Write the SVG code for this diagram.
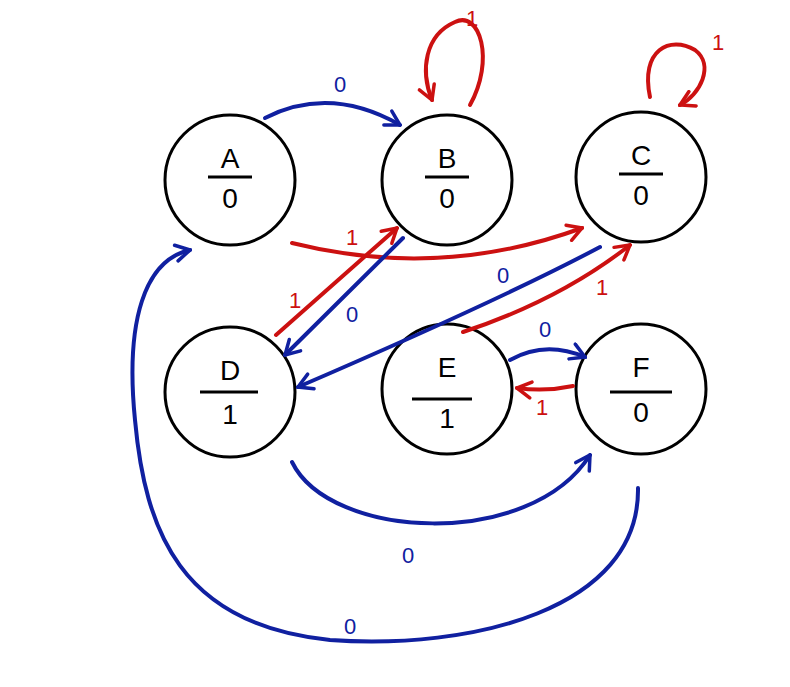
<svg xmlns="http://www.w3.org/2000/svg" width="790" height="687" viewBox="0 0 790 687">
<style>
.n{fill:#fff;stroke:#000;stroke-width:3}
.t{font-family:"Liberation Sans",sans-serif;font-size:28px;text-anchor:middle}
.b{fill:none;stroke:#1020a0;stroke-width:4;stroke-linecap:round}
.r{fill:none;stroke:#cc1111;stroke-width:4;stroke-linecap:round}
.lb{font-family:"Liberation Sans",sans-serif;font-size:22px;fill:#1020a0;text-anchor:middle}
.lr{font-family:"Liberation Sans",sans-serif;font-size:22px;fill:#cc1111;text-anchor:middle}
</style>
<defs>
<marker id="mb" viewBox="0 0 20 20" refX="18" refY="10" markerWidth="20" markerHeight="20" markerUnits="userSpaceOnUse" orient="auto"><path d="M4,2 L18,10 L4,18" fill="none" stroke="#1020a0" stroke-width="3.5" stroke-linecap="round"/></marker>
<marker id="mr" viewBox="0 0 20 20" refX="18" refY="10" markerWidth="20" markerHeight="20" markerUnits="userSpaceOnUse" orient="auto"><path d="M4,2 L18,10 L4,18" fill="none" stroke="#cc1111" stroke-width="3.5" stroke-linecap="round"/></marker>
</defs>
<rect width="790" height="687" fill="#fff"/>
<g id="A"><circle class="n" cx="230" cy="180" r="65"/><text class="t" x="230" y="168">A</text><line x1="208" y1="177" x2="252" y2="177" stroke="#000" stroke-width="3"/><text class="t" x="230" y="208">0</text></g>
<g id="B"><circle class="n" cx="447" cy="180" r="65"/><text class="t" x="447" y="168">B</text><line x1="425" y1="177" x2="469" y2="177" stroke="#000" stroke-width="3"/><text class="t" x="447" y="208">0</text></g>
<g id="C"><circle class="n" cx="641" cy="177" r="65"/><text class="t" x="641" y="165">C</text><line x1="619" y1="174" x2="663" y2="174" stroke="#000" stroke-width="3"/><text class="t" x="641" y="205">0</text></g>
<g id="D"><circle class="n" cx="230" cy="392" r="65"/><text class="t" x="230" y="380">D</text><line x1="200" y1="392" x2="258" y2="392" stroke="#000" stroke-width="3"/><text class="t" x="230" y="424">1</text></g>
<g id="E"><circle class="n" cx="447" cy="389" r="65"/><text class="t" x="447" y="377">E</text><line x1="412" y1="399" x2="472" y2="399" stroke="#000" stroke-width="3"/><text class="t" x="447" y="428">1</text></g>
<g id="F"><circle class="n" cx="641" cy="389" r="65"/><text class="t" x="641" y="377">F</text><line x1="610" y1="392" x2="672" y2="392" stroke="#000" stroke-width="3"/><text class="t" x="641" y="422">0</text></g>
<g id="connectors">
<path class="b" d="M265,118 Q330,85 400,125" marker-end="url(#mb)"/>
<path class="r" d="M470,105 C495,60 480,10 455,22 C425,35 420,70 432,100" marker-end="url(#mr)"/>
<path class="r" d="M650,97 C640,50 670,35 695,50 C715,65 700,95 680,105" marker-end="url(#mr)"/>
<path class="r" d="M292,243 Q440,280 582,228" marker-end="url(#mr)"/>
<path class="r" d="M276,335 L397,228" marker-end="url(#mr)"/>
<path class="b" d="M403,238 L285,355" marker-end="url(#mb)"/>
<path class="b" d="M600,247 Q500,300 298,387" marker-end="url(#mb)"/>
<path class="r" d="M463,332 Q560,300 630,245" marker-end="url(#mr)"/>
<path class="b" d="M510,360 Q545,340 585,357" marker-end="url(#mb)"/>
<path class="r" d="M573,386 Q545,392 517,388" marker-end="url(#mr)"/>
<path class="b" d="M292,462 C330,540 530,550 590,455" marker-end="url(#mb)"/>
<path class="b" d="M638,488 C640,610 470,650 330,640 C180,625 145,530 135,420 C125,320 145,260 190,250" marker-end="url(#mb)"/>
</g>
<g id="labels">
<text class="lb" x="340" y="92">0</text>
<text class="lr" x="472" y="26">1</text>
<text class="lr" x="718" y="50">1</text>
<text class="lr" x="352" y="245">1</text>
<text class="lr" x="295" y="308">1</text>
<text class="lb" x="352" y="322">0</text>
<text class="lb" x="503" y="283">0</text>
<text class="lr" x="602" y="295">1</text>
<text class="lb" x="545" y="337">0</text>
<text class="lr" x="542" y="415">1</text>
<text class="lb" x="408" y="563">0</text>
<text class="lb" x="350" y="634">0</text>
</g>
</svg>
